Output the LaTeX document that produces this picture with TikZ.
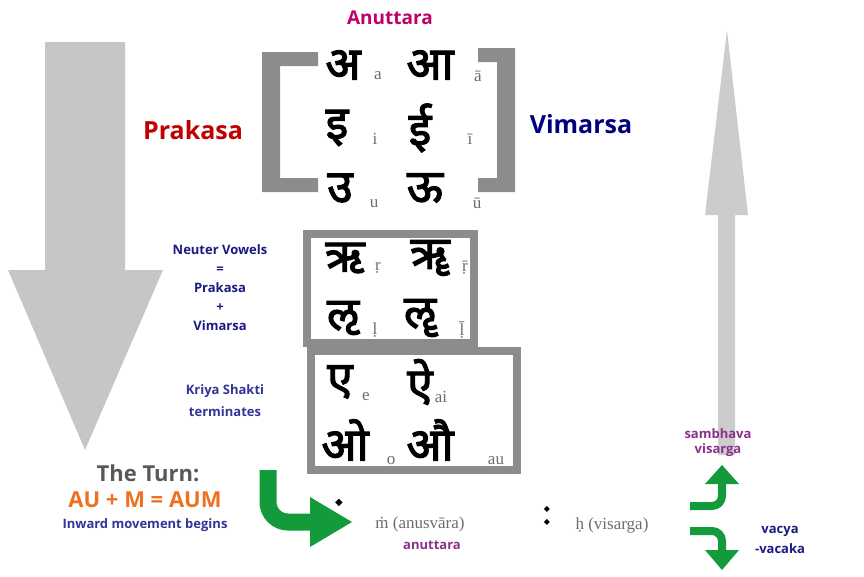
\documentclass[tikz,border=0pt]{standalone}
\usepackage{fontspec}
\setmainfont{Liberation Serif}
\setsansfont{Open Sans}
\newfontfamily\deva[Script=Devanagari,FakeBold=2.5]{Noto Sans}
\newfontfamily\djv{DejaVu Sans}
\begin{document}
\begin{tikzpicture}[x=1pt,y=-1pt,
  lab/.style={font=\sffamily\bfseries,align=center,inner sep=0},
  dv/.style={font=\deva\bfseries\fontsize{46}{46}\selectfont,inner sep=0},
  tr/.style={font=\fontsize{17}{17}\selectfont,text=gray!85!black,inner sep=0}]
\definecolor{gr}{HTML}{139A3A}
\definecolor{nv}{HTML}{1A1A80}
\definecolor{ks}{HTML}{333399}
\definecolor{pu}{HTML}{8B2F8B}
\definecolor{bk}{HTML}{8C8C8C}
\useasboundingbox (0,0) rectangle (864,576);
% big arrows
\fill[gray!45] (45,42) -- (125,42) -- (125,270) -- (163,270) -- (85,450) -- (8,270) -- (45,270) -- cycle;
\fill[gray!40] (718,455) -- (735,455) -- (735,215) -- (748,215) -- (727,30) -- (705,215) -- (718,215) -- cycle;
% brackets
\fill[bk] (262,52) rectangle (318,66) (262,52) rectangle (280,192) (262,178) rectangle (318,192);
\fill[bk] (478,48) rectangle (515,62) (497,48) rectangle (515,192) (478,178) rectangle (515,192);
\node[lab,text={rgb,255:red,192;green,0;blue,106},font=\sffamily\bfseries\fontsize{19}{19}\selectfont] (anut) at (390,18) {Anuttara};
\node[lab,text={rgb,255:red,192;green,0;blue,0},font=\sffamily\bfseries\fontsize{25}{25}\selectfont] (prak) at (193,130) {Prakasa};
\node[lab,text={rgb,255:red,0;green,0;blue,128},font=\sffamily\bfseries\fontsize{25}{25}\selectfont] (vim) at (581,124) {Vimarsa};
% top vowels
\node[dv] (a) at (343,65) {अ}; \node[tr] (at) at (378,76) {a};
\node[dv] (aa) at (430,65) {आ}; \node[tr] (aat) at (478,76) {ā};
\node[dv] (i) at (337,128) {इ}; \node[tr] (it) at (375,139) {i};
\node[dv] (ii) at (420,128) {ई}; \node[tr] (iit) at (470,139) {ī};
\node[dv] (u) at (340,188) {उ}; \node[tr] (ut) at (374,204) {u};
\node[dv] (uu) at (425,188) {ऊ}; \node[tr] (uut) at (477,203) {ū};
% boxes
\draw[line width=8pt,bk] (307,234) rectangle (474,343);
\draw[line width=8pt,bk] (311,351) rectangle (517,470);
\node[dv] (r) at (345,258) {ऋ}; \node[tr] (rt) at (378,268) {ṛ};
\node[dv] (rr) at (430,258) {ॠ}; \node[tr] (rrt) at (465,268) {ṝ};
\node[dv] (l) at (343,318) {ऌ}; \node[tr] (lt) at (375,330) {ḷ};
\node[dv] (ll) at (420,318) {ॡ}; \node[tr] (llt) at (462,330) {ḹ};
\node[dv] (e) at (340,382) {ए}; \node[tr] (et) at (366,397) {e};
\node[dv] (ai) at (420,382) {ऐ}; \node[tr] (ait) at (441,397) {ai};
\node[dv] (o) at (345,440) {ओ}; \node[tr] (ot) at (391,461) {o};
\node[dv] (au) at (430,440) {औ}; \node[tr] (aut) at (496,461) {au};
% left labels
\node[lab,text=nv,font=\sffamily\bfseries\fontsize{13}{19}\selectfont] (neut) at (220,288) {Neuter Vowels\\=\\Prakasa\\+\\Vimarsa};
\node[lab,text=ks,font=\sffamily\bfseries\fontsize{13}{22}\selectfont] (kriya) at (225,401) {Kriya Shakti\\terminates};
\node[lab,text=gray!70!black,font=\sffamily\bfseries\fontsize{22}{22}\selectfont] (turn) at (148,473) {The Turn:};
\node[lab,text={rgb,255:red,240;green,112;blue,32},font=\sffamily\bfseries\fontsize{22}{22}\selectfont] (aum) at (145,500) {AU + M = AUM};
\node[lab,text=ks,font=\sffamily\bfseries\fontsize{13}{13}\selectfont] (inw) at (145,525) {Inward movement begins};
% green turn arrow
\coordinate (g1) at (268,470); \coordinate (g2) at (312,522);
\draw[gr,line width=17pt] (g1) -- (268,502) arc[start angle=180,end angle=90,radius=20] -- (g2);
\fill[gr] (310,497) -- (352,522) -- (310,547) -- cycle;
\node[tr,font=\fontsize{17}{17}\selectfont] (anus) at (420,524) {ṁ (anusvāra)};
\node[inner sep=0,font=\djv\fontsize{10}{10}\selectfont] (bindu) at (339,503) {◆};
\node[lab,text=pu,font=\sffamily\bfseries\fontsize{13}{13}\selectfont] (anu2) at (432,545) {anuttara};
\node[inner sep=0,font=\djv\fontsize{8}{8}\selectfont] (v1) at (547,509) {◆};
\node[inner sep=0,font=\djv\fontsize{8}{8}\selectfont] (v2) at (547,522) {◆};
\node[tr,font=\fontsize{17}{17}\selectfont] (vis) at (612,525) {ḥ (visarga)};
% right green arrows
\draw[gr,line width=8pt] (690,506) -- (712,506) arc[start angle=90,end angle=0,radius=10] -- (722,483);
\fill[gr] (705,484) -- (722,465) -- (739,484) -- cycle;
\draw[gr,line width=8pt] (690,531) -- (712,531) arc[start angle=-90,end angle=0,radius=10] -- (722,551);
\fill[gr] (705,550) -- (722,570) -- (739,550) -- cycle;
\node[lab,text=pu,font=\sffamily\bfseries\fontsize{13}{15}\selectfont] (samb) at (718,443) {sambhava\\visarga};
\node[lab,text=nv,font=\sffamily\bfseries\fontsize{13}{20}\selectfont] (vac) at (780,540) {vacya\\-vacaka};
\end{tikzpicture}
\end{document}
